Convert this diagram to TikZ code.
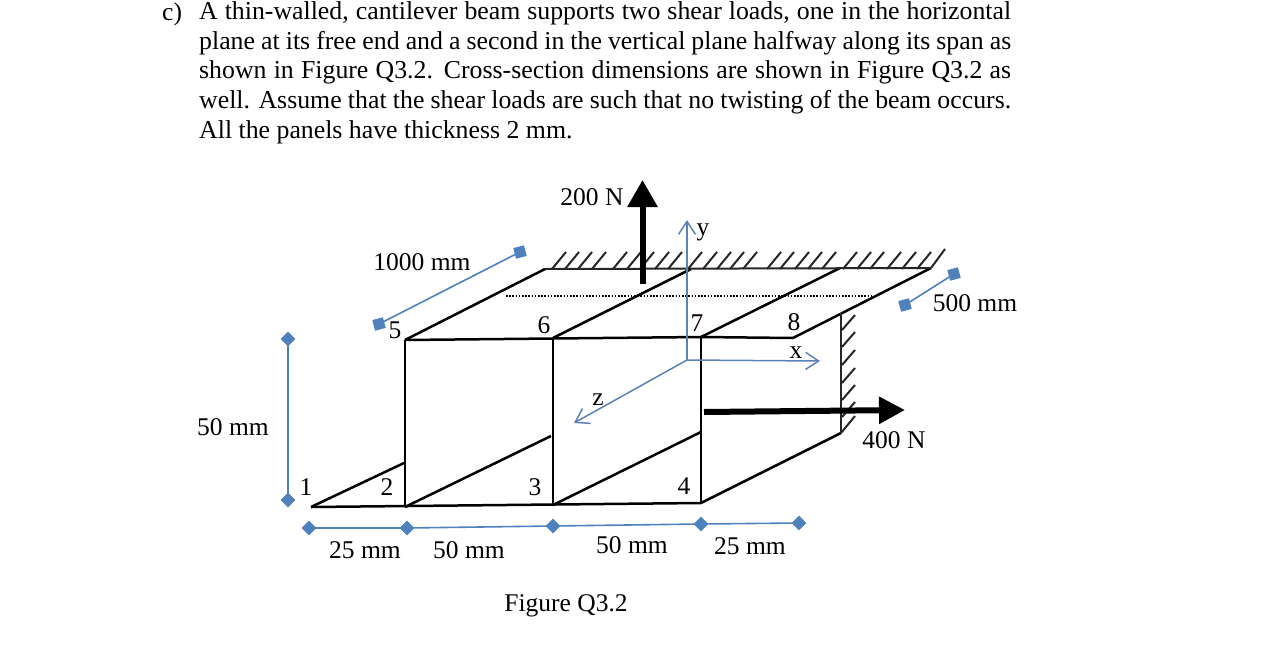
\documentclass[tikz,border=0pt]{standalone}
\usepackage{fontspec}
\setmainfont{Liberation Serif}
\usetikzlibrary{arrows.meta,shapes.geometric}
\definecolor{dimblue}{HTML}{4F81BD}
\definecolor{axisblue}{HTML}{5B82B8}
\tikzset{
  beam/.style={line width=2.5pt,black},
  hatch/.style={line width=2pt,black!85},
  dimline/.style={line width=1.6pt,dimblue,shorten <=-2pt,shorten >=-2pt},
  dimdia/.style={diamond,fill=dimblue,inner sep=0pt,minimum size=15pt},
  dimsq/.style={rectangle,fill=dimblue,inner sep=0pt,minimum size=11pt,rotate=15},
  axis/.style={line width=1.5pt,axisblue,-{Straight Barb[length=13pt,width=17pt,line width=1.5pt]}},
  load/.style={line width=6pt,black,-{Triangle[length=27pt,width=29pt]}},
  lab/.style={anchor=base,inner sep=0pt,font=\fontsize{25.5}{29}\selectfont}
}
\begin{document}
\begin{tikzpicture}
  [x=1pt,y=-1pt]
  \useasboundingbox (0,0) rectangle (1266,645);

  % question text
  \node[lab,anchor=base west] (part) at (162,20) {c)};
  \node[lab,anchor=north west,text width=812pt,align=justify] (question) at (199,1.5) {\fontsize{25.8}{29.6}\selectfont
    A thin-walled, cantilever beam supports two shear loads, one in the horizontal\linebreak
    plane at its free end and a second in the vertical plane halfway along its span as\linebreak
    shown in Figure Q3.2. Cross-section dimensions are shown in Figure Q3.2 as\linebreak
    well. Assume that the shear loads are such that no twisting of the beam occurs.\linebreak
    All the panels have thickness 2 mm.\par};

  % section corners
  \coordinate (p1) at (311,507);
  \coordinate (p2) at (405,507);
  \coordinate (p3) at (553,505);
  \coordinate (p4) at (701,503);
  \coordinate (p5) at (405,340);
  \coordinate (p6) at (553,338);
  \coordinate (p7) at (701,337);
  \coordinate (p8) at (793,338);
  % root
  \coordinate (r5) at (545,269);
  \coordinate (r6) at (691,269);
  \coordinate (r7) at (840,268);
  \coordinate (r8) at (931,268);
  \coordinate (r4) at (841,433);
  \coordinate (r1) at (404,463);
  \coordinate (r2) at (551,436);
  \coordinate (r3) at (701,432);
  \coordinate (w8) at (841,313);

  \foreach \from/\to in {p1/p4,p5/p7,p7/p8,p5/p2,p6/p3,p7/p4,
      p5/r5,p6/r6,p7/r7,p8/r8,p4/r4,p1/r1,p2/r2,p3/r3}
    \draw[beam] (\from) -- (\to);

  % fixed wall
  \draw[hatch] (r5) -- (r8);
  \draw[hatch] (w8) -- (r4);
  \foreach \x in {552,565,578,592,613,627,640,655,668,688,703,717,730,743,
      767,780,795,808,822,843,857,870,887,902,917}
    \draw[hatch] (\x,269) -- ++(14,-17);
  \draw[hatch] (r8) -- ++(14,-19);
  \foreach \y in {330,347,365,383,400,417}
    \draw[hatch] (842,\y) -- ++(13,-15);
  \draw[hatch] (r4) -- ++(14,-17);

  % mid span line
  \coordinate (m1) at (506,296);
  \coordinate (m2) at (871,296);
  \draw[line width=1.8pt,black,dash pattern=on 1.6pt off 1.6pt] (m1) -- (m2);

  % axes
  \coordinate (o) at (687,360);
  \coordinate (ya) at (687,220);
  \coordinate (xa) at (820,361);
  \coordinate (za) at (574,423);
  \foreach \to in {ya,xa,za}
    \draw[axis] (o) -- (\to);

  % loads
  \coordinate (l1) at (642.5,284);
  \coordinate (l2) at (642.5,180);
  \coordinate (l3) at (704,412);
  \coordinate (l4) at (905,410);
  \draw[load] (l1) -- (l2);
  \draw[load,-{Triangle[length=26pt,width=26pt]}] (l3) -- (l4);

  % dimensions
  \node[dimdia] (v1) at (288,339) {};
  \node[dimdia] (v2) at (288,500) {};
  \node[dimdia] (h1) at (309,528) {};
  \node[dimdia] (h2) at (407,528) {};
  \node[dimdia] (h3) at (553,526) {};
  \node[dimdia] (h4) at (701,524) {};
  \node[dimdia] (h5) at (799,523) {};
  \node[dimsq] (d1) at (379,324) {};
  \node[dimsq] (d2) at (520,252) {};
  \node[dimsq] (d3) at (905,305) {};
  \node[dimsq] (d4) at (954,274) {};
  \foreach \from/\to in {v1/v2,h1/h2,h2/h3,h3/h4,h4/h5,d1/d2,d3/d4}
    \draw[dimline] (\from) -- (\to);

  % labels
  \node[lab] (t200) at (592,205) {200 N};
  \node[lab] (t400) at (894,448) {400 N};
  \node[lab] (ty) at (703,235) {y};
  \node[lab] (tx) at (796,358) {x};
  \node[lab] (tz) at (598,405) {z};
  \node[lab] (t1000) at (422,270) {1000 mm};
  \node[lab] (t500) at (975,311) {500 mm};
  \node[lab] (tv) at (233,435) {50 mm};
  \node[lab] (n1) at (306,495) {1};
  \node[lab] (n2) at (387,495) {2};
  \node[lab] (n3) at (535,495) {3};
  \node[lab] (n4) at (684,494) {4};
  \node[lab] (n5) at (395,338) {5};
  \node[lab] (n6) at (544,333) {6};
  \node[lab] (n7) at (697,331) {7};
  \node[lab] (n8) at (794,330) {8};
  \node[lab] (th1) at (365,558) {25 mm};
  \node[lab] (th2) at (469,558) {50 mm};
  \node[lab] (th3) at (632,553) {50 mm};
  \node[lab] (th4) at (750,554) {25 mm};
  \node[lab] (cap) at (566,611) {Figure Q3.2};
\end{tikzpicture}
\end{document}
